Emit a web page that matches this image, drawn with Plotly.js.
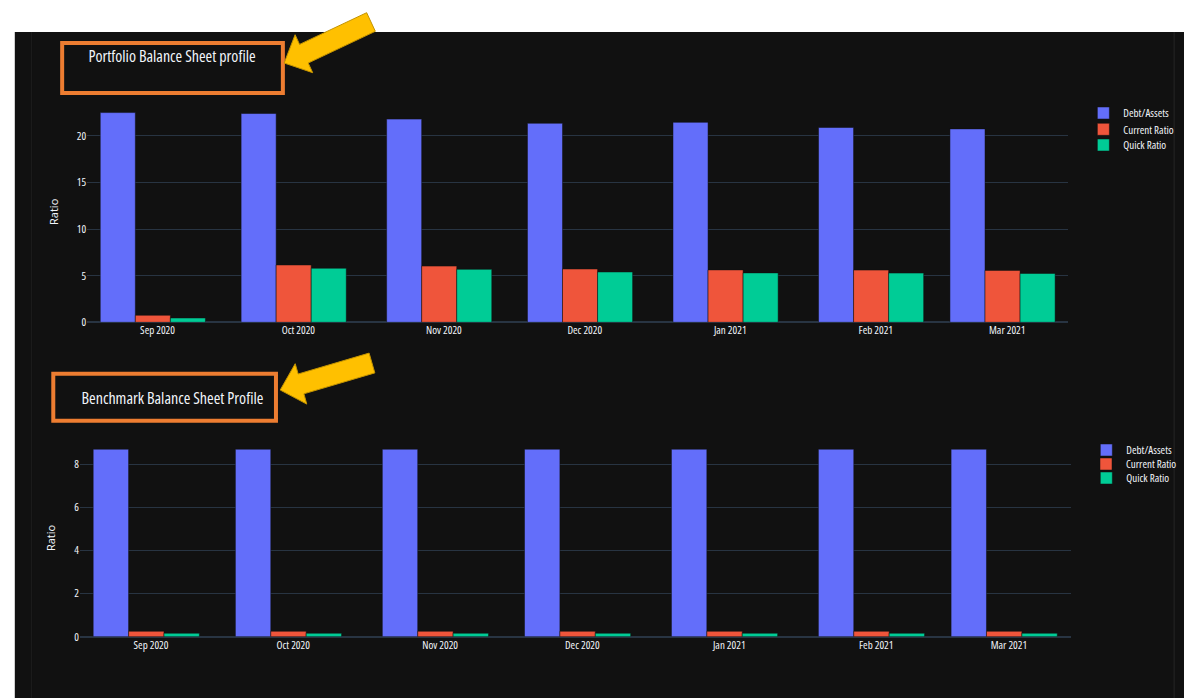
<!DOCTYPE html>
<html>
<head>
<meta charset="utf-8">
<script src="https://cdn.plot.ly/plotly-3.0.1.min.js"></script>
<style>
  html, body { margin: 0; padding: 0; background: #ffffff; overflow: hidden; }
  #chart { width: 1200px; height: 700px; }
  .main-svg text { font-stretch: 80%; }
  .g-ytitle text, .g-y2title text { font-stretch: 100%; }
</style>
</head>
<body>
<div id="chart"></div>
<script>
// ---- data ----
const dates = ['2020-08-31', '2020-09-30', '2020-10-31', '2020-11-30', '2020-12-31', '2021-01-31', '2021-02-28'];
const seriesNames = ['Debt/Assets', 'Current Ratio', 'Quick Ratio'];
const portfolioDebtAssets = [22.5, 22.4, 21.8, 21.35, 21.45, 20.9, 20.75];
const portfolioCurrentRatio = [0.75, 6.15, 6.03, 5.72, 5.62, 5.6, 5.57];
const portfolioQuickRatio = [0.46, 5.8, 5.68, 5.4, 5.3, 5.28, 5.24];
const benchmarkDebtAssets = [8.7, 8.7, 8.7, 8.7, 8.7, 8.7, 8.7];
const benchmarkCurrentRatio = [0.25, 0.25, 0.25, 0.25, 0.25, 0.25, 0.25];
const benchmarkQuickRatio = [0.16, 0.16, 0.16, 0.16, 0.16, 0.16, 0.16];
const titles = ['Portfolio Balance Sheet profile', 'Benchmark Balance Sheet Profile'];
const yTitle = 'Ratio';

// ---- styles ----
const colors = ['#636efa', '#EF553B', '#00cc96'];
const W = 1200, H = 700;
const px = v => v / W;
const py = v => 1 - v / H;
const fontColor = '#f2f5fa';
const font = 'Open Sans, verdana, arial, sans-serif';

function barTrace(name, y, i, xa, ya, legendId) {
  return {
    type: 'bar', name: name, x: dates, y: y,
    xaxis: xa, yaxis: ya, legend: legendId, showlegend: true,
    marker: { color: colors[i], line: { color: 'rgb(17,17,17)', width: 0.5 } }
  };
}

const data = [
  barTrace(seriesNames[0], portfolioDebtAssets, 0, 'x', 'y', 'legend'),
  barTrace(seriesNames[1], portfolioCurrentRatio, 1, 'x', 'y', 'legend2'),
  barTrace(seriesNames[2], portfolioQuickRatio, 2, 'x', 'y', 'legend3'),
  barTrace(seriesNames[0], benchmarkDebtAssets, 0, 'x2', 'y2', 'legend4'),
  barTrace(seriesNames[1], benchmarkCurrentRatio, 1, 'x2', 'y2', 'legend5'),
  barTrace(seriesNames[2], benchmarkQuickRatio, 2, 'x2', 'y2', 'legend6')
];

function legendAt(xPx, yPx) {
  return {
    x: px(xPx), y: py(yPx), xanchor: 'left', yanchor: 'middle',
    bgcolor: 'rgba(0,0,0,0)', borderwidth: 0,
    font: { family: font, size: 11, color: fontColor }
  };
}

function arrowPath(pts) {
  return 'M' + pts.map(p => px(p[0]) + ',' + py(p[1])).join(' L') + ' Z';
}

const arrowTop = [[288, 63], [299.1, 34.7], [303.6, 44.4], [371.6, 12.7], [380.4, 31.3], [312.4, 63.0], [316.9, 72.7]];
const arrowBottom = [[284, 390], [299.2, 363.7], [302.2, 374], [374.1, 353.1], [379.9, 372.9], [308, 393.8], [310.9, 404.1]];

const xAxisBase = {
  type: 'date', dtick: 'M1', tick0: '2020-09-01', tickformat: '%b %Y',
  showgrid: false, zeroline: false, showline: false, ticks: '',
  tickfont: { family: font, size: 11, color: fontColor }
};
const yAxisBase = {
  showgrid: true, gridcolor: '#283442', gridwidth: 1,
  zeroline: true, zerolinecolor: '#283442', zerolinewidth: 2,
  showline: false, ticks: '',
  tickfont: { family: font, size: 11, color: fontColor },
  title: { text: yTitle, font: { family: font, size: 11, color: fontColor }, standoff: 12 }
};

const layout = {
  width: W, height: H,
  showlegend: true,
  margin: { l: 0, r: 0, t: 0, b: 0, pad: 0 },
  paper_bgcolor: '#ffffff',
  plot_bgcolor: '#111111',
  font: { family: font, color: fontColor },
  barmode: 'group', bargap: 0.2, bargroupgap: 0,
  xaxis: Object.assign({}, xAxisBase, { domain: [px(88.3), px(1082.7)], anchor: 'y' }),
  yaxis: Object.assign({}, yAxisBase, { domain: [py(322.3), py(101.4)], anchor: 'x', range: [0, 23.7], dtick: 5 }),
  xaxis2: Object.assign({}, xAxisBase, { domain: [px(81), px(1085)], anchor: 'y2' }),
  yaxis2: Object.assign({}, yAxisBase, { domain: [py(636.7), py(439.3)], anchor: 'x2', range: [0, 9.16], dtick: 2,
    title: { text: yTitle, font: { family: font, size: 11, color: fontColor }, standoff: 14 } }),
  legend: legendAt(1098, 113),
  legend2: legendAt(1098, 129.3),
  legend3: legendAt(1098, 145),
  legend4: legendAt(1101, 450),
  legend5: legendAt(1101, 464),
  legend6: legendAt(1101, 478),
  shapes: [
    { type: 'rect', xref: 'paper', yref: 'paper', layer: 'below',
      x0: px(15), x1: px(1200), y0: py(698), y1: py(32),
      fillcolor: '#111111', line: { width: 0 } },
    { type: 'line', xref: 'paper', yref: 'paper', layer: 'below',
      x0: px(32), x1: px(32), y0: py(698), y1: py(32), line: { color: '#1c1c1c', width: 1 } },
    { type: 'line', xref: 'paper', yref: 'paper', layer: 'below',
      x0: px(1190), x1: px(1190), y0: py(698), y1: py(32), line: { color: '#262626', width: 1 } },
    { type: 'rect', xref: 'paper', yref: 'paper', layer: 'above',
      x0: px(63), x1: px(286.7), y0: py(93), y1: py(43),
      fillcolor: 'rgba(0,0,0,0)', line: { color: '#ED7D31', width: 4 } },
    { type: 'rect', xref: 'paper', yref: 'paper', layer: 'above',
      x0: px(54), x1: px(279.7), y0: py(420.7), y1: py(373.7),
      fillcolor: 'rgba(0,0,0,0)', line: { color: '#ED7D31', width: 4 } },
    { type: 'path', xref: 'paper', yref: 'paper', layer: 'above',
      path: arrowPath(arrowTop), fillcolor: '#FFC000', line: { color: '#C39300', width: 1 } },
    { type: 'path', xref: 'paper', yref: 'paper', layer: 'above',
      path: arrowPath(arrowBottom), fillcolor: '#FFC000', line: { color: '#C39300', width: 1 } }
  ],
  annotations: [
    { text: titles[0], xref: 'paper', yref: 'paper', x: px(174), y: py(55.5),
      xanchor: 'center', yanchor: 'middle', showarrow: false,
      font: { family: font, size: 16, color: fontColor } },
    { text: titles[1], xref: 'paper', yref: 'paper', x: px(175), y: py(398),
      xanchor: 'center', yanchor: 'middle', showarrow: false,
      font: { family: font, size: 16, color: fontColor } }
  ]
};

Plotly.newPlot('chart', data, layout, { displayModeBar: false, staticPlot: true });
</script>
</body>
</html>
